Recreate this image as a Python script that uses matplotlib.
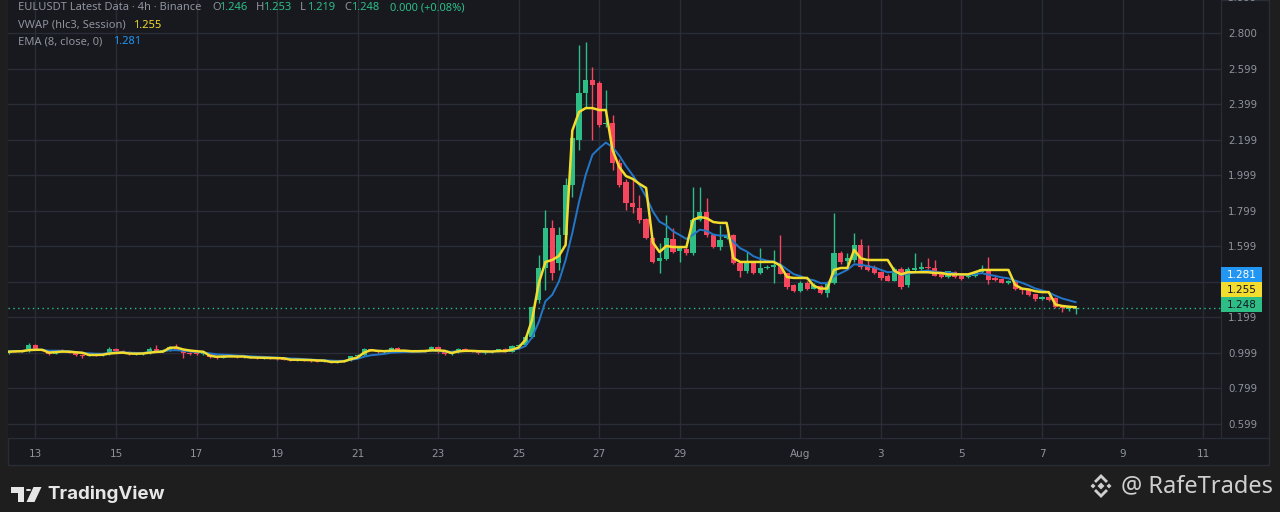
import numpy as np
import matplotlib.pyplot as plt
from matplotlib.patches import Rectangle, Polygon, Circle
from matplotlib.lines import Line2D
import matplotlib.transforms as mtransforms

# EULUSDT 4h candles, first bar opens July 12 08:00 (x axis = day of July, Aug 1 = 32)
first_bar = 12 + 8 / 24
bar_step = 4 / 24

opens = [1.000, 1.008, 1.006, 1.010, 1.040, 1.016, 1.012, 0.993, 1.011, 1.007,
         0.999, 0.985, 0.982, 0.988, 0.984, 0.991, 1.020, 1.008, 1.003, 0.990,
         0.993, 0.996, 1.022, 1.010, 1.014, 1.032, 1.015, 0.996, 0.993, 0.990,
         0.994, 0.975, 0.970, 0.982, 0.979, 0.972, 0.976, 0.970, 0.968, 0.971,
         0.965, 0.963, 0.960, 0.958, 0.961, 0.954, 0.952, 0.949, 0.951, 0.946,
         0.948, 0.955, 0.978, 0.985, 1.018, 1.012, 1.000, 1.006, 1.024, 1.006,
         1.010, 1.004, 1.008, 1.012, 1.030, 1.000, 0.992, 1.000, 1.020, 1.012,
         1.008, 0.998, 1.002, 1.006, 1.018, 1.004, 1.036, 1.044, 1.088, 1.296,
         1.476, 1.700, 1.504, 1.662, 1.944, 2.197, 2.462, 2.535, 2.518, 2.285,
         2.293, 2.068, 1.961, 1.842, 1.814, 1.752, 1.645, 1.516, 1.527, 1.640,
         1.572, 1.583, 1.560, 1.747, 1.792, 1.662, 1.594, 1.645, 1.662, 1.504,
         1.459, 1.504, 1.448, 1.476, 1.482, 1.493, 1.448, 1.380, 1.346, 1.392,
         1.360, 1.375, 1.335, 1.392, 1.561, 1.516, 1.521, 1.606, 1.493, 1.482,
         1.454, 1.431, 1.403, 1.470, 1.380, 1.465, 1.470, 1.482, 1.476, 1.448,
         1.425, 1.454, 1.431, 1.425, 1.431, 1.454, 1.470, 1.420, 1.414, 1.392,
         1.403, 1.358, 1.352, 1.329, 1.301, 1.313, 1.307, 1.256, 1.245, 1.246]
highs = [1.012, 1.015, 1.014, 1.052, 1.048, 1.022, 1.016, 1.015, 1.018, 1.012,
         1.003, 0.992, 0.992, 0.994, 0.995, 1.030, 1.026, 1.012, 1.006, 0.998,
         1.000, 1.028, 1.040, 1.020, 1.036, 1.046, 1.018, 1.002, 0.998, 0.999,
         0.997, 0.980, 0.986, 0.988, 0.984, 0.980, 0.980, 0.976, 0.975, 0.974,
         0.970, 0.968, 0.966, 0.964, 0.964, 0.960, 0.957, 0.955, 0.954, 0.952,
         0.958, 0.982, 0.990, 1.025, 1.022, 1.016, 1.010, 1.030, 1.028, 1.014,
         1.016, 1.012, 1.016, 1.034, 1.034, 1.004, 1.004, 1.026, 1.024, 1.016,
         1.014, 1.006, 1.010, 1.022, 1.024, 1.040, 1.048, 1.092, 1.262, 1.550,
         1.803, 1.747, 1.707, 1.983, 2.220, 2.732, 2.749, 2.608, 2.530, 2.479,
         2.338, 2.090, 1.980, 1.972, 1.887, 1.760, 1.650, 1.617, 1.775, 1.701,
         1.600, 1.600, 1.930, 1.930, 1.870, 1.670, 1.718, 1.670, 1.670, 1.510,
         1.566, 1.510, 1.589, 1.490, 1.578, 1.660, 1.450, 1.385, 1.400, 1.400,
         1.390, 1.380, 1.390, 1.786, 1.570, 1.560, 1.673, 1.640, 1.606, 1.490,
         1.460, 1.440, 1.480, 1.480, 1.480, 1.560, 1.510, 1.530, 1.520, 1.455,
         1.460, 1.460, 1.440, 1.435, 1.460, 1.490, 1.538, 1.430, 1.420, 1.410,
         1.410, 1.360, 1.355, 1.330, 1.320, 1.320, 1.310, 1.260, 1.262, 1.253]
lows = [0.992, 1.002, 1.000, 1.005, 1.012, 1.008, 0.988, 0.990, 1.004, 0.996,
        0.978, 0.970, 0.978, 0.980, 0.980, 0.988, 1.005, 0.998, 0.985, 0.984,
        0.988, 0.993, 1.006, 1.004, 1.010, 1.012, 0.966, 0.988, 0.985, 0.986,
        0.970, 0.964, 0.966, 0.975, 0.968, 0.968, 0.966, 0.964, 0.962, 0.962,
        0.958, 0.956, 0.954, 0.952, 0.950, 0.948, 0.945, 0.944, 0.942, 0.940,
        0.945, 0.952, 0.972, 0.982, 1.006, 0.996, 0.996, 1.002, 1.002, 1.000,
        1.000, 1.000, 1.004, 1.010, 0.996, 0.985, 0.988, 0.996, 1.008, 1.004,
        0.992, 0.992, 0.998, 1.000, 1.000, 1.000, 1.028, 1.038, 1.082, 1.279,
        1.352, 1.408, 1.465, 1.640, 1.876, 2.141, 2.383, 2.197, 2.270, 2.270,
        2.028, 1.930, 1.803, 1.786, 1.730, 1.640, 1.504, 1.448, 1.520, 1.560,
        1.510, 1.550, 1.550, 1.740, 1.650, 1.590, 1.580, 1.640, 1.500, 1.425,
        1.450, 1.440, 1.440, 1.470, 1.390, 1.440, 1.360, 1.340, 1.340, 1.350,
        1.355, 1.330, 1.313, 1.385, 1.500, 1.500, 1.510, 1.470, 1.460, 1.440,
        1.410, 1.400, 1.400, 1.360, 1.370, 1.460, 1.460, 1.470, 1.430, 1.420,
        1.420, 1.420, 1.410, 1.420, 1.425, 1.450, 1.386, 1.400, 1.390, 1.385,
        1.350, 1.330, 1.320, 1.290, 1.295, 1.290, 1.250, 1.230, 1.235, 1.219]
closes = [1.008, 1.006, 1.010, 1.040, 1.016, 1.012, 0.993, 1.011, 1.007, 0.999,
          0.985, 0.982, 0.988, 0.984, 0.991, 1.020, 1.008, 1.003, 0.990, 0.993,
          0.996, 1.022, 1.010, 1.014, 1.032, 1.015, 0.996, 0.993, 0.990, 0.994,
          0.975, 0.970, 0.982, 0.979, 0.972, 0.976, 0.970, 0.968, 0.971, 0.965,
          0.963, 0.960, 0.958, 0.961, 0.954, 0.952, 0.949, 0.951, 0.946, 0.948,
          0.955, 0.978, 0.985, 1.018, 1.012, 1.000, 1.006, 1.024, 1.006, 1.010,
          1.004, 1.008, 1.012, 1.030, 1.000, 0.992, 1.000, 1.020, 1.012, 1.008,
          0.998, 1.002, 1.006, 1.018, 1.004, 1.036, 1.044, 1.088, 1.256, 1.476,
          1.700, 1.448, 1.662, 1.944, 2.208, 2.462, 2.535, 2.507, 2.282, 2.293,
          2.068, 1.944, 1.842, 1.820, 1.747, 1.645, 1.510, 1.532, 1.645, 1.566,
          1.589, 1.560, 1.747, 1.792, 1.662, 1.594, 1.634, 1.662, 1.504, 1.459,
          1.504, 1.448, 1.476, 1.482, 1.493, 1.442, 1.369, 1.346, 1.392, 1.358,
          1.380, 1.335, 1.392, 1.561, 1.510, 1.532, 1.606, 1.482, 1.465, 1.448,
          1.420, 1.403, 1.470, 1.369, 1.470, 1.476, 1.482, 1.476, 1.431, 1.425,
          1.459, 1.425, 1.414, 1.431, 1.454, 1.470, 1.408, 1.408, 1.392, 1.400,
          1.358, 1.352, 1.324, 1.301, 1.313, 1.296, 1.256, 1.250, 1.256, 1.248]
# VWAP (hlc3, Session)
vwap = [1.004, 1.006, 1.007, 1.013, 1.015, 1.015, 0.999, 1.002, 1.005, 1.004,
        1.001, 0.998, 0.986, 0.986, 0.987, 0.994, 0.997, 0.999, 0.994, 0.993,
        0.994, 0.999, 1.003, 1.005, 1.026, 1.028, 1.017, 1.011, 1.007, 1.004,
        0.981, 0.976, 0.977, 0.978, 0.977, 0.977, 0.972, 0.971, 0.970, 0.969,
        0.968, 0.967, 0.959, 0.959, 0.958, 0.957, 0.955, 0.954, 0.947, 0.947,
        0.950, 0.962, 0.972, 1.000, 1.013, 1.009, 1.007, 1.010, 1.010, 1.010,
        1.007, 1.007, 1.008, 1.012, 1.012, 1.009, 0.997, 1.006, 1.009, 1.009,
        1.007, 1.006, 1.005, 1.008, 1.008, 1.015, 1.028, 1.070, 1.183, 1.390,
        1.510, 1.521, 1.544, 1.606, 2.250, 2.355, 2.377, 2.377, 2.366, 2.366,
        2.140, 2.045, 1.994, 1.978, 1.950, 1.927, 1.620, 1.566, 1.600, 1.594,
        1.594, 1.594, 1.747, 1.763, 1.757, 1.735, 1.730, 1.730, 1.532, 1.510,
        1.510, 1.510, 1.510, 1.510, 1.510, 1.490, 1.425, 1.420, 1.420, 1.420,
        1.375, 1.360, 1.360, 1.465, 1.476, 1.476, 1.578, 1.530, 1.521, 1.521,
        1.521, 1.521, 1.460, 1.440, 1.452, 1.452, 1.452, 1.452, 1.448, 1.448,
        1.440, 1.440, 1.440, 1.440, 1.452, 1.465, 1.465, 1.465, 1.465, 1.465,
        1.380, 1.360, 1.355, 1.345, 1.340, 1.340, 1.270, 1.262, 1.258, 1.255]

price_ticks = [0.599, 0.799, 0.999, 1.199, 1.399, 1.599, 1.799, 1.999, 2.199, 2.399, 2.599, 2.800]
price_labels = ['0.599', '0.799', '0.999', '1.199', '', '1.599', '1.799', '1.999',
                '2.199', '2.399', '2.599', '2.800']
date_ticks = [13, 15, 17, 19, 21, 23, 25, 27, 29, 32, 34, 36, 38, 40, 42]
date_labels = ['13', '15', '17', '19', '21', '23', '25', '27', '29', 'Aug', '3', '5', '7', '9', '11']

ema_len = 8
last_vwap = 1.255
last_ema = 1.281

W, H = 1280, 512
BG = '#17191f'
OUTER = '#1e1e1e'
GRID = '#2a2d36'
TXT = '#8f939c'
UP = '#2ebd85'
DOWN = '#f6465d'
YELLOW = '#f2dc2e'
BLUE = '#2477c8'

o = np.array(opens)
h = np.array(highs)
l = np.array(lows)
c = np.array(closes)
t = first_bar + bar_step * np.arange(len(c))

# EMA(8, close)
alpha = 2 / (ema_len + 1)
ema = np.zeros(len(c))
ema[0] = c[0]
for i in range(1, len(c)):
    ema[i] = ema[i - 1] + alpha * (c[i] - ema[i - 1])

fig = plt.figure(figsize=(W / 100, H / 100), dpi=100, facecolor=OUTER)

def fx(x):
    return x / W

def fy(y):
    return 1 - y / H

# chart panel background (plot + both axes)
fig.patches.append(Rectangle((fx(8), fy(465)), fx(1269) - fx(8), fy(0) - fy(465),
                             transform=fig.transFigure, facecolor=BG, edgecolor=GRID, lw=1, zorder=-5))
fig.lines.append(Line2D([fx(8), fx(1269)], [fy(438), fy(438)], transform=fig.transFigure,
                        color=GRID, lw=1, zorder=-4))

ax = fig.add_axes([fx(8), fy(438), fx(1221) - fx(8), fy(0) - fy(438)])
ax.set_zorder(1)
ax.set_facecolor(BG)
ax.set_xlim(12.317, 42.446)
ax.set_ylim(0.518, 2.986)

for s in ['top', 'left']:
    ax.spines[s].set_visible(False)
ax.spines['right'].set_color(GRID)
ax.spines['bottom'].set_color(GRID)

ax.set_yticks(price_ticks, price_labels)
ax.yaxis.tick_right()
ax.tick_params(axis='y', length=0, pad=5, labelsize=7.4, labelcolor=TXT)
ax.set_xticks(date_ticks, date_labels)
ax.tick_params(axis='x', length=0, pad=8, labelsize=7.5, labelcolor=TXT)
ax.grid(True, color=GRID, lw=1)
ax.set_axisbelow(True)

# candles
width = 0.13
colors = np.where(c >= o, UP, DOWN)
ax.vlines(t, l, h, colors=colors, lw=1, zorder=2)
for ti, oi, ci, col in zip(t, o, c, colors):
    bottom = min(oi, ci)
    height = max(abs(ci - oi), 0.006)
    ax.add_patch(Rectangle((ti - width / 2, bottom), width, height, facecolor=col,
                           edgecolor='none', zorder=2.1))

ax.plot(t, ema, color=BLUE, lw=1.4, zorder=3)
ax.plot(t, vwap, color=YELLOW, lw=1.8, zorder=3.2)

# last price line
ax.axhline(c[-1], color=UP, lw=1, ls=(0, (1, 2.5)), zorder=1.5)

# price labels on the axis
trans = mtransforms.blended_transform_factory(ax.transAxes, ax.transData)
box_w = 41 / 1213
box_h = 15 / 177.5
tags = [(c[-1] + 0.02, f'{c[-1]:.3f}', UP, '#131722'),
        (c[-1] + 0.02 + box_h, f'{last_vwap:.3f}', YELLOW, '#131722'),
        (c[-1] + 0.02 + 2 * box_h, f'{last_ema:.3f}', '#2196f3', 'white')]
for yc, txt, fc, tc in tags:
    ax.add_patch(Rectangle((1.0, yc - box_h / 2), box_w, box_h, transform=trans,
                           facecolor=fc, edgecolor='none', clip_on=False, zorder=6))
    ax.text(1.0 + box_w / 2, yc, txt, transform=trans, ha='center', va='center',
            fontsize=7.5, color=tc, clip_on=False, zorder=7)
ax.text(1.0 + 6 / 1213, 3.0, '3.000', transform=trans, ha='left', va='center',
        fontsize=7.4, color=TXT, clip_on=False)

# legend header
hdr = dict(fontsize=8, family='Noto Sans', va='center')
fig.text(fx(18), fy(8), 'EULUSDT Latest Data · 4h · Binance', color=TXT, **hdr)
x0 = 212
for key, val in [('O', '1.246'), ('H', '1.253'), ('L', '1.219'), ('C', '1.248')]:
    fig.text(fx(x0), fy(8), key, color=TXT, **hdr)
    fig.text(fx(x0 + 7), fy(8), val, color=UP, **hdr)
    x0 += 44
fig.text(fx(390), fy(8), '0.000 (+0.08%)', color=UP, **hdr)
fig.text(fx(18), fy(25), 'VWAP (hlc3, Session)', color=TXT, **hdr)
fig.text(fx(133), fy(25), '1.255', color=YELLOW, **hdr)
fig.text(fx(18), fy(42), 'EMA (8, close, 0)', color=TXT, **hdr)
fig.text(fx(113), fy(42), '1.281', color='#2196f3', **hdr)

# TradingView logo
LOGO = '#e6e6e6'
def fpoly(pts, col):
    fig.patches.append(Polygon([(fx(x), fy(y)) for x, y in pts], closed=True,
                               transform=fig.transFigure, facecolor=col, edgecolor='none'))
fpoly([(11, 487), (24, 487), (24, 502), (18, 502), (18, 493), (11, 493)], LOGO)
fig.patches.append(Circle((fx(28.5), fy(490)), 2.6 / W, transform=fig.transFigure,
                          facecolor=LOGO, edgecolor='none'))
fpoly([(33.5, 487), (41.5, 487), (34.5, 502), (26.5, 502)], LOGO)
fig.text(fx(47), fy(494), 'TradingView', color=LOGO, fontsize=13.5, family='Inter',
         weight='bold', va='center')

# watermark with diamond mark
MARK = '#cfcfcf'
cx, cy = 1101, 486
fpoly([(cx, cy - 3.5), (cx + 3.5, cy), (cx, cy + 3.5), (cx - 3.5, cy)], MARK)
fpoly([(cx - 10.5, cy), (cx - 8, cy - 2.5), (cx - 5.5, cy), (cx - 8, cy + 2.5)], MARK)
fpoly([(cx + 10.5, cy), (cx + 8, cy - 2.5), (cx + 5.5, cy), (cx + 8, cy + 2.5)], MARK)
fpoly([(cx - 7, cy - 5), (cx, cy - 12), (cx + 7, cy - 5), (cx + 5, cy - 3), (cx, cy - 8), (cx - 5, cy - 3)], MARK)
fpoly([(cx - 7, cy + 5), (cx, cy + 12), (cx + 7, cy + 5), (cx + 5, cy + 3), (cx, cy + 8), (cx - 5, cy + 3)], MARK)
fig.text(fx(1121), fy(486), '@ RafeTrades', color=MARK, fontsize=17, family='Noto Sans',
         va='center')

fig.savefig('out.png', dpi=100, facecolor=OUTER)
